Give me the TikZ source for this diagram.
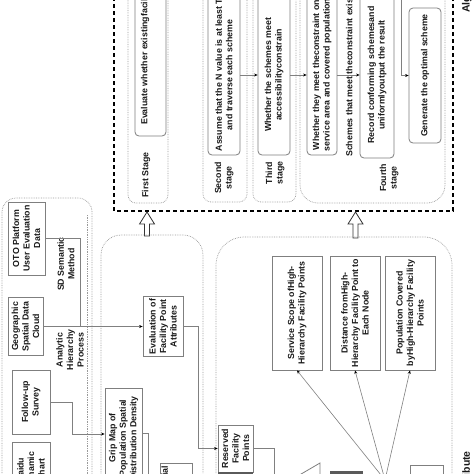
\documentclass[tikz,border=0pt]{standalone}
\usepackage{fontspec}
\setmainfont{Liberation Sans}
\usetikzlibrary{arrows.meta}
\definecolor{boxgray}{HTML}{7F7F7F}
\definecolor{contgray}{HTML}{9A9A9A}
\definecolor{linegray}{HTML}{808080}
\definecolor{darkbar}{HTML}{5A5A5A}
\begin{document}
\begin{tikzpicture}[x=1pt,y=-1pt,
  every node/.style={font=\bfseries\fontsize{8.8}{10.5}\selectfont, inner sep=0pt, align=center, text=black!90},
  sq/.style={draw=boxgray, line width=0.8pt, rotate=90},
  rbox/.style={draw=boxgray, line width=0.8pt, rounded corners=4pt, rotate=90},
  lbl/.style={rotate=90},
  biglbl/.style={rotate=90, font=\bfseries\fontsize{10.5}{12}\selectfont},
  cont/.style={draw=contgray, densely dotted, line width=0.7pt},
  conn/.style={draw=linegray, line width=0.6pt},
  arr/.style={conn, -{Stealth[length=3.5pt,width=3pt,color=black]}},
  algo/.style={draw=black, dash pattern=on 4pt off 3pt, line width=1.2pt},
  hollow/.style={draw=black!80, line width=0.8pt, fill=white},
]
\useasboundingbox (0,0) rectangle (474,474);
\fill[white] (0,0) rectangle (474,474);

% ---------- algorithm frame ----------
\draw[algo] (114,-10) -- (114,211) -- (453,211) -- (453,-10);
\node[biglbl, anchor=west] (alg) at (467,13) {Algorithm};

% stage containers
\draw[cont, rounded corners=8pt] (128,-20) rectangle (168,203);
\draw[cont, rounded corners=8pt] (203,-20) rectangle (247,202);
\draw[cont, rounded corners=8pt] (253,-20) rectangle (296,202);
\draw[cont, rounded corners=18pt] (300,-20) rectangle (445,203);

\node[lbl] (l1) at (146,175) {First Stage};
\node[lbl] (l2) at (224,178) {Second\\stage};
\node[lbl] (l3) at (275,173) {Third\\stage};
\node[lbl] (l4) at (389,178) {Fourth\\stage};

% stage boxes
\node[rbox, minimum width=180, minimum height=31] (ev) at (150.5,46) {};
\node[lbl, anchor=west] (evt) at (145,125) {Evaluate whether existingfacilities};
\node[rbox, minimum width=160, minimum height=32] (as) at (224,75) {Assume that the N value is at least T\\and traverse each scheme};
\node[rbox, minimum width=160, minimum height=32] (wsm) at (274,75) {Whether the schemes meet\\accessibilityconstrain};
\node[rbox, minimum width=160, minimum height=30] (wtm) at (322,75) {Whether they meet theconstraint on\\service area and covered population};
\node[lbl, anchor=west] (sch) at (350,157) {Schemes that meet theconstraint existing};
\node[rbox, minimum width=166, minimum height=34] (rec) at (377,75) {Record conforming schemesand\\uniformlyoutput the result};
\node[rbox, minimum width=135, minimum height=32] (gen) at (425,75.5) {Generate the optimal scheme};
\coordinate (gtop) at (401,-20);

\draw[arr] (as.south) -- (wsm.north);
\draw[arr] (wsm.south) -- (wtm.north);
\draw[arr] (wtm.south) -- (rec.north);
\draw[arr] (gtop) |- (gen.north);

% hollow arrows
\draw[hollow] (144.5,236) -- (144.5,224) -- (139.5,224) -- (147,212) -- (154.5,224) -- (149.5,224) -- (149.5,236) -- cycle;
\draw[hollow] (353,238) -- (353,224) -- (348,224) -- (355.5,212) -- (363,224) -- (358,224) -- (358,238) -- cycle;

% ---------- containers ----------
\draw[cont, rounded corners=14pt] (2,198) rectangle (92,530);
\draw[cont] (87,215) -- (87,480);
\draw[cont, rounded corners=20pt] (101,235) rectangle (203,530);
\draw[cont, rounded corners=28pt] (216,237) rectangle (452,530);

% ---------- data sources ----------
\node[sq, minimum width=73, minimum height=37] (oto) at (26.5,238.5) {OTO Platform\\User Evaluation\\Data};
\node[sq, minimum width=58, minimum height=35] (geo) at (25.5,326.5) {Geographic\\Spatial Data\\Cloud};
\node[sq, minimum width=64, minimum height=38] (fus) at (31,402) {Follow-up\\Survey};
\node[sq, minimum width=56, minimum height=38] (bdu) at (31,470) {Baidu\\Dynamic\\Chart};

\node[lbl] (sdm) at (66,264) {SD Semantic\\Method};
\node[lbl] (ahp) at (70,350) {Analytic\\Hierarchy\\Process};

% ---------- middle ----------
\node[sq, minimum width=60, minimum height=40] (eva) at (163,326.5) {Evaluation of\\Facility Point\\Attributes};
\node[sq, minimum width=100, minimum height=37] (grip) at (123.5,438) {Grip Map of\\Population Spatial\\Distribution Density};
\node[sq, minimum width=60, minimum height=32] (pbx) at (176,493) {};
\node[lbl, anchor=east] (pbt) at (165.5,466) {Spatial};

\coordinate (j1) at (80,326.5);
\coordinate (b1) at (72,434);
\coordinate (g1) at (148,433);
\coordinate (g2) at (148,490);
\draw[conn] (oto.south) -| (j1);
\draw[arr] (geo.south) -- (eva.north);
\draw[arr] (fus.south) -| (b1) -- (grip.north |- b1);
\draw[conn] (grip.south |- g1) -- (g1) -- (g2);

% ---------- right container ----------
\node[sq, minimum width=47, minimum height=35] (res) at (235.5,448.5) {Reserved\\Facility\\Points};
\coordinate (b2) at (198,448.5);
\coordinate (o2) at (274,490);
\draw[arr] (eva.south) -| (b2) -- (res.north);
\draw[conn] (res.south) -| (o2);

\node[sq, minimum width=114, minimum height=50] (ssc) at (297,313) {Service Scope ofHigh-\\Hierarchy Facility Points};
\node[sq, minimum width=114, minimum height=50] (dst) at (355,313) {Distance fromHigh-\\Hierarchy Facility Point to\\Each Node};
\node[sq, minimum width=114, minimum height=50] (pop) at (410,313) {Population Covered\\byHigh-Hierarchy Facility\\Points};
\coordinate (src) at (385,480);
\draw[arr] (src) -- (ssc.west);
\draw[arr] (src) -- (dst.west);
\draw[arr] (src) -- (pop.west);

\fill[darkbar] (218,471.5) rectangle (253,480);
\fill[darkbar] (330,471) rectangle (363,480);
\draw[draw=boxgray, line width=0.8pt] (320,463) -- (296,477) -- (320,491) -- cycle;
\node[sq, minimum width=40, minimum height=33] (brb) at (426.5,485) {};

\node[biglbl, anchor=east] (att) at (466,451) {Attribute};
\end{tikzpicture}
\end{document}
